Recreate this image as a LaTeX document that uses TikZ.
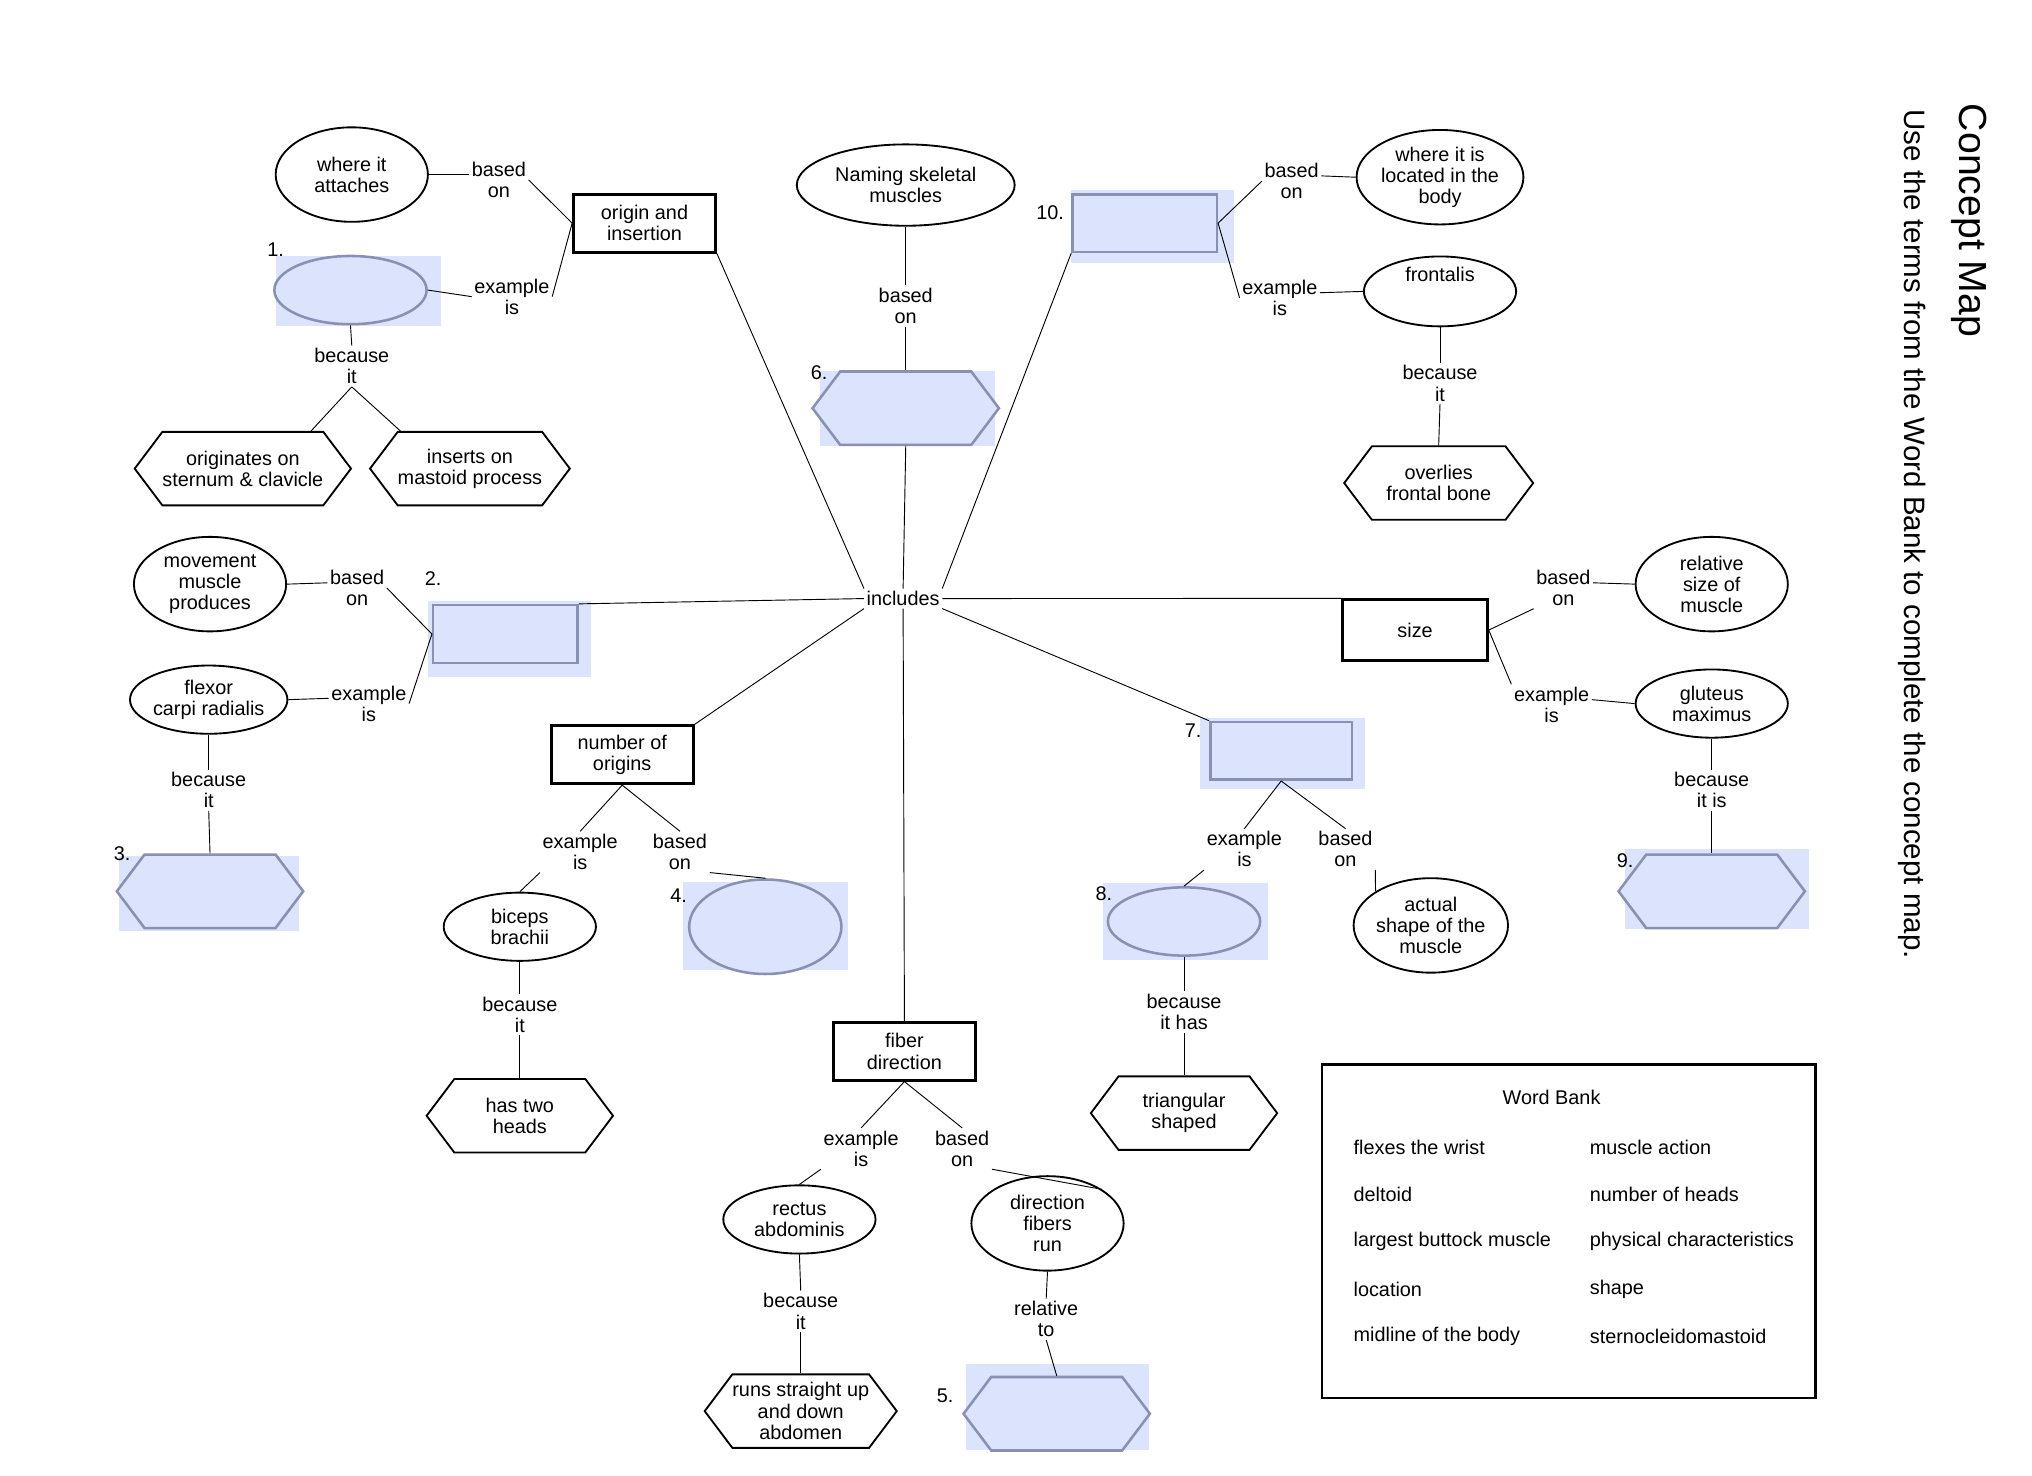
\documentclass[tikz,border=0pt]{standalone}
\usepackage{fontspec}
\setmainfont{Liberation Sans}
\usetikzlibrary{shapes.geometric,shapes.symbols,calc}
\definecolor{bfill}{RGB}{220,227,253}
\definecolor{bline}{RGB}{136,144,180}
\begin{document}
\begin{tikzpicture}[x=0.02cm,y=-0.02cm,
  every node/.style={font=\fontsize{8.6}{9.2}\selectfont},
  lbl/.style={align=center,inner sep=1pt},
  ell/.style={ellipse,draw,line width=0.8pt,minimum width=2.32cm,minimum height=1.04cm,inner sep=0pt,align=center},
  tall/.style={minimum height=1.44cm},
  box/.style={rectangle,draw,line width=0.8pt,minimum width=2.16cm,minimum height=0.88cm,align=center,inner sep=0pt},
  tbox/.style={box,line width=1.3pt},
  hex/.style={signal,signal to=west and east,signal pointer angle=106,draw,line width=0.8pt,minimum width=2.9cm,minimum height=1.12cm,inner sep=0pt,align=center},
  blue/.style={fill=bfill,draw=bline,line width=1.1pt},
  hl/.style={fill=bfill},
  num/.style={inner sep=0pt}]
\useasboundingbox (0,0) rectangle (1548,1124);
% highlights
\fill[hl] (210,195) rectangle (336,248);
\fill[hl] (625,283) rectangle (758,340);
\fill[hl] (816,145) rectangle (940,200);
\fill[hl] (326,458) rectangle (450,516);
\fill[hl] (91,652) rectangle (228,709);
\fill[hl] (1238,647) rectangle (1378,708);
\fill[hl] (520,672) rectangle (646,739);
\fill[hl] (914,547) rectangle (1040,601);
\fill[hl] (840,673) rectangle (966,731);
\fill[hl] (736,1039) rectangle (875,1105);
% top-left
\node[ell,tall] (attach) at (268,133) {where it\\attaches};
\node[lbl] (bo1) at (380,137) {based\\on};
\node[tbox] (oi) at (491,170) {origin and\\insertion};
\node[ell,blue] (e1) at (267,221) {};
\node[num] at (210,190) {1.};
\node[lbl] (ex1) at (390,226) {example\\is};
\node[lbl] (bc1) at (268,279) {because\\it};
\node[hex,minimum width=3.0cm] (h1a) at (185,357) {originates on\\sternum \& clavicle};
\node[hex,minimum width=3.04cm] (h1b) at (358,357) {inserts on\\mastoid process};
% top centre
\node[ell,minimum width=3.32cm,minimum height=1.24cm] (nsm) at (690,141) {Naming skeletal\\muscles};
\node[lbl] (bo6) at (690,233) {based\\on};
\node[hex,blue,minimum width=2.84cm] (h6) at (690,311) {};
\node[num] at (624,284) {6.};
% top right
\node[box,blue,minimum width=2.2cm] (b10) at (872,170) {};
\node[num] at (800,162) {10.};
\node[lbl] (bo10) at (984,138) {based\\on};
\node[ell,tall] (loc) at (1097,135) {where it is\\located in the\\body};
\node[lbl] (ex10) at (975,227) {example\\is};
\node[ell] (fr) at (1097,222) {frontalis\\[6pt]};
\node[lbl] (bc10) at (1097,292) {because\\it};
\node[hex,minimum width=2.88cm] (h10) at (1096,368) {overlies\\frontal bone};
% left middle
\node[ell,tall] (mmp) at (160,445) {movement\\muscle\\produces};
\node[lbl] (bo2) at (272,448) {based\\on};
\node[num] at (330,441) {2.};
\node[box,blue,minimum width=2.2cm] (b2) at (385,483) {};
\node[ell] (fcr) at (159,533) {flexor\\carpi radialis};
\node[lbl] (ex2) at (281,536) {example\\is};
\node[lbl] (bc2) at (159,602) {because\\it};
\node[hex,blue,minimum width=2.84cm] (h3) at (160,679) {};
\node[num] at (93,650) {3.};
% centre
\node[lbl] (inc) at (688,456) {includes};
% right
\node[tbox,minimum width=2.2cm,minimum height=0.92cm] (size) at (1078,480) {size};
\node[lbl] (bos) at (1191,448) {based\\on};
\node[ell,tall] (rel) at (1304,445) {relative\\size of\\muscle};
\node[lbl] (exs) at (1182,537) {example\\is};
\node[ell] (glu) at (1304,536) {gluteus\\maximus};
\node[lbl] (bcs) at (1304,602) {because\\it is};
\node[hex,blue,minimum width=2.84cm] (h9) at (1304,679) {};
\node[num] at (1238,656) {9.};
% number of origins
\node[tbox] (noo) at (474,575) {number of\\origins};
\node[lbl] (exn) at (442,649) {example\\is};
\node[lbl] (bon) at (518,649) {based\\on};
\node[ell] (bic) at (396,706) {biceps\\brachii};
\node[ell,blue,tall] (e4) at (583,706) {};
\node[num] at (517,682) {4.};
\node[lbl] (bcn) at (396,773) {because\\it};
\node[hex,minimum width=2.84cm] (h2h) at (396,850) {has two\\heads};
% shape (7)
\node[box,blue] (b7) at (976,572) {};
\node[num] at (909,557) {7.};
\node[lbl] (ex7) at (948,647) {example\\is};
\node[lbl] (bo7) at (1025,647) {based\\on};
\node[ell,blue] (e8) at (902,702) {};
\node[num] at (841,681) {8.};
\node[ell,tall] (asm) at (1090,705) {actual\\shape of the\\muscle};
\node[lbl] (bc8) at (902,771) {because\\it has};
\node[hex,minimum width=2.84cm] (h8) at (902,848) {triangular\\shaped};
% fiber direction
\node[box,line width=1.1pt] (fd) at (689,801) {fiber\\direction};
\node[lbl] (exf) at (656,875) {example\\is};
\node[lbl] (bof) at (733,875) {based\\on};
\node[ell] (rab) at (609,929) {rectus\\abdominis};
\node[ell,tall] (dfr) at (798,932) {direction\\fibers\\run};
\node[lbl] (bcf) at (610,999) {because\\it};
\node[lbl] (rlt) at (797,1005) {relative\\to};
\node[hex,minimum width=2.84cm] (hrs) at (610,1075) {runs straight up\\and down\\abdomen};
\node[hex,blue,minimum width=2.84cm] (h5) at (805,1077) {};
\node[num] at (720,1063) {5.};
% word bank
\node[draw,line width=1.1pt,minimum width=7.52cm,minimum height=5.08cm,inner sep=0pt] (wb) at (1195,938) {};
\node (wbt) at (1182,836) {Word Bank};
\node[anchor=west] (w1) at (1025,874) {flexes the wrist};
\node[anchor=west] (w2) at (1025,910) {deltoid};
\node[anchor=west] (w3) at (1025,946) {largest buttock muscle};
\node[anchor=west] (w4) at (1025,982) {location};
\node[anchor=west] (w5) at (1025,1018) {midline of the body};
\node[anchor=west] (w6) at (1205,874) {muscle action};
\node[anchor=west] (w7) at (1205,910) {number of heads};
\node[anchor=west] (w8) at (1205,946) {physical characteristics};
\node[anchor=west] (w9) at (1205,982) {shape};
\node[anchor=west] (w10) at (1205,1018) {sternocleidomastoid};
% titles
\node[rotate=-90,font=\fontsize{17}{20}\selectfont] (title) at (1500,168) {Concept Map};
\node[rotate=-90,font=\fontsize{12.8}{15}\selectfont] (sub) at (1457,407) {Use the terms from the Word Bank to complete the concept map.};
% connectors
\draw (attach.east) -- ($(bo1.west)+(0,-4)$);
\draw (bo1.east) -- (oi.west);
\draw (e1.east) -- (ex1.west);
\draw (ex1.east) -- (oi.west);
\draw (e1.south) -- (bc1.north);
\draw (bc1.south) -- ($(h1a.north)+(52,0)$);
\draw (bc1.south) -- ($(h1b.north)+(-53,0)$);
\draw (nsm.south) -- (bo6.north);
\draw (bo6.south) -- (h6.north);
\draw (h6.south) -- (inc.north);
\draw (oi.south east) -- (inc.north west);
\draw (b10.south west) -- (inc.north east);
\draw (b10.east) -- (bo10.west);
\draw (b10.east) -- (ex10.west);
\draw ($(bo10.east)+(0,-4)$) -- (loc.west);
\draw ($(ex10.east)+(0,-4)$) -- (fr.west);
\draw (fr.south) -- (bc10.north);
\draw (bc10.south) -- (h10.north);
\draw (mmp.east) -- ($(bo2.west)+(0,-4)$);
\draw (bo2.east) -- (b2.west);
\draw (fcr.east) -- ($(ex2.west)+(0,-4)$);
\draw (ex2.east) -- (b2.west);
\draw (fcr.south) -- (bc2.north);
\draw (bc2.south) -- (h3.north);
\draw (b2.north east) -- (inc.west);
\draw (inc.east) -- (size.north west);
\draw (size.east) -- (bos.south west);
\draw (size.east) -- (exs.north west);
\draw ($(bos.east)+(0,-4)$) -- (rel.west);
\draw ($(exs.east)+(0,-4)$) -- (glu.west);
\draw (glu.south) -- (bcs.north);
\draw (bcs.south) -- (h9.north);
\draw (inc.south west) -- (noo.north east);
\draw (noo.south) -- (exn.north);
\draw (noo.south) -- (bon.north);
\draw (exn.south west) -- (bic.north);
\draw (bon.south east) -- (e4.north);
\draw (bic.south) -- (bcn.north);
\draw (bcn.south) -- (h2h.north);
\draw (inc.south east) -- (b7.north west);
\draw (b7.south) -- (ex7.north);
\draw (b7.south) -- (bo7.north);
\draw (ex7.south west) -- (e8.north);
\draw (bo7.south east) -- (asm.north west);
\draw (e8.south) -- (bc8.north);
\draw (bc8.south) -- (h8.north);
\draw (inc.south) -- (fd.north);
\draw (fd.south) -- (exf.north);
\draw (fd.south) -- (bof.north);
\draw (exf.south west) -- (rab.north);
\draw (bof.south east) -- (dfr.north east);
\draw (rab.south) -- (bcf.north);
\draw (bcf.south) -- (hrs.north);
\draw (dfr.south) -- (rlt.north);
\draw (rlt.south) -- (h5.north);
\end{tikzpicture}
\end{document}
